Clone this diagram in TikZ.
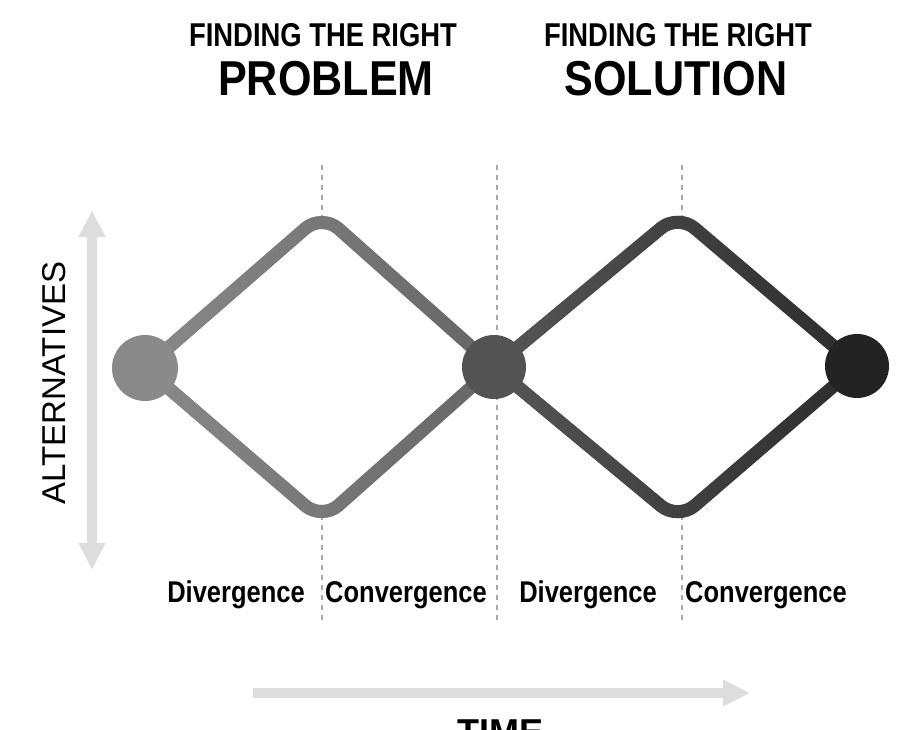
\documentclass[tikz,border=0pt]{standalone}
\usepackage{fontspec}
\usepackage{tikz}
\usetikzlibrary{positioning, arrows.meta, fadings}
\newfontfamily\headfont{Liberation Sans}[FakeStretch=0.83]
\newfontfamily\bigfont{Liberation Sans}[FakeStretch=0.88]
\newfontfamily\phasefont{Liberation Sans}[FakeStretch=0.85]
\newfontfamily\axisfont{Liberation Sans}
\definecolor{axisgray}{HTML}{DDDDDD}
\definecolor{guidegray}{HTML}{A8A8A8}
\definecolor{probA}{HTML}{8A8A8A}
\definecolor{probB}{HTML}{666666}
\definecolor{solA}{HTML}{575757}
\definecolor{solB}{HTML}{2C2C2C}
\tikzfading[name=fade right, left color=transparent!0, right color=transparent!100]
\tikzset{
	dot/.style={
		circle,
		inner sep=0pt,
		minimum size=66pt
	},
	lens/.style={
		line width=13pt,
		rounded corners=22pt
	},
	guide/.style={
		draw=guidegray,
		line width=1.2pt,
		dash pattern=on 5pt off 5pt
	},
	axis arrow/.style={
		draw=axisgray,
		line width=10pt
	},
	headline/.style={
		anchor=base,
		inner sep=0pt,
		font=\headfont\bfseries\fontsize{33}{33}\selectfont
	},
	bigline/.style={
		anchor=base,
		inner sep=0pt,
		font=\bigfont\bfseries\fontsize{49}{49}\selectfont
	},
	phase/.style={
		anchor=base,
		inner sep=0pt,
		font=\phasefont\bfseries\fontsize{30}{30}\selectfont
	}
}

\begin{document}
\begin{tikzpicture}[x=1pt, y=-1pt]
\useasboundingbox (0,0) rectangle (923,730);

% ---
% Titles
% ---
\node[headline] (find1) at (323,47) {FINDING THE RIGHT};
\node[bigline] (prob) at (326,96) {PROBLEM};
\node[headline] (find2) at (678,47) {FINDING THE RIGHT};
\node[bigline] (sol) at (676,96) {SOLUTION};

% ---
% Guides
% ---
\foreach \x in {322,497,682} {
	\draw[guide] (\x,165) -- (\x,622);
}

% ---
% Axes
% ---
\coordinate (alt-lo) at (92,570);
\coordinate (alt-hi) at (92,210);
\coordinate (time-lo) at (253,693);
\coordinate (time-hi) at (750,693);
\draw[axis arrow, {Triangle[length=27pt,width=25pt]}-{Triangle[length=27pt,width=25pt]}] (alt-lo) -- (alt-hi);
\draw[axis arrow, -{Triangle[length=27pt,width=25pt]}] (time-lo) -- (time-hi);
\node[anchor=base, inner sep=0pt, rotate=90, font=\axisfont\fontsize{33}{33}\selectfont] (alt) at (65,383) {ALTERNATIVES};
\node[anchor=base, inner sep=0pt, font=\axisfont\bfseries\fontsize{36}{36}\selectfont] (time) at (500,744) {TIME};

% ---
% Diamonds
% ---
\coordinate (t1) at (322,214);
\coordinate (b1) at (322,520);
\coordinate (t2) at (678,214);
\coordinate (b2) at (678,520);
\node[dot] (p0) at (145,368) {};
\node[dot] (p1) at (494,367) {};
\node[dot] (p2) at (857,366) {};

\fill[white, rounded corners=22pt] (p0.center) -- (t1) -- (p1.center) -- (b1) -- cycle;
\fill[white, rounded corners=22pt] (p1.center) -- (t2) -- (p2.center) -- (b2) -- cycle;
\draw[lens, probB] (p0.center) -- (t1) -- (p1.center) -- (b1) -- cycle;
\draw[lens, probA, path fading=fade right] (p0.center) -- (t1) -- (p1.center) -- (b1) -- cycle;
\draw[lens, solB] (p1.center) -- (t2) -- (p2.center) -- (b2) -- cycle;
\draw[lens, solA, path fading=fade right] (p1.center) -- (t2) -- (p2.center) -- (b2) -- cycle;

\fill[probA] (p0) circle (33pt);
\fill[solA!95!black] (p1) circle (32pt);
\fill[solB!80!black] (p2) circle (32pt);

% ---
% Phases
% ---
\node[phase] (div1) at (236,602) {Divergence};
\node[phase] (conv1) at (406,602) {Convergence};
\node[phase] (div2) at (588,602) {Divergence};
\node[phase] (conv2) at (766,602) {Convergence};
\end{tikzpicture}
\end{document}
